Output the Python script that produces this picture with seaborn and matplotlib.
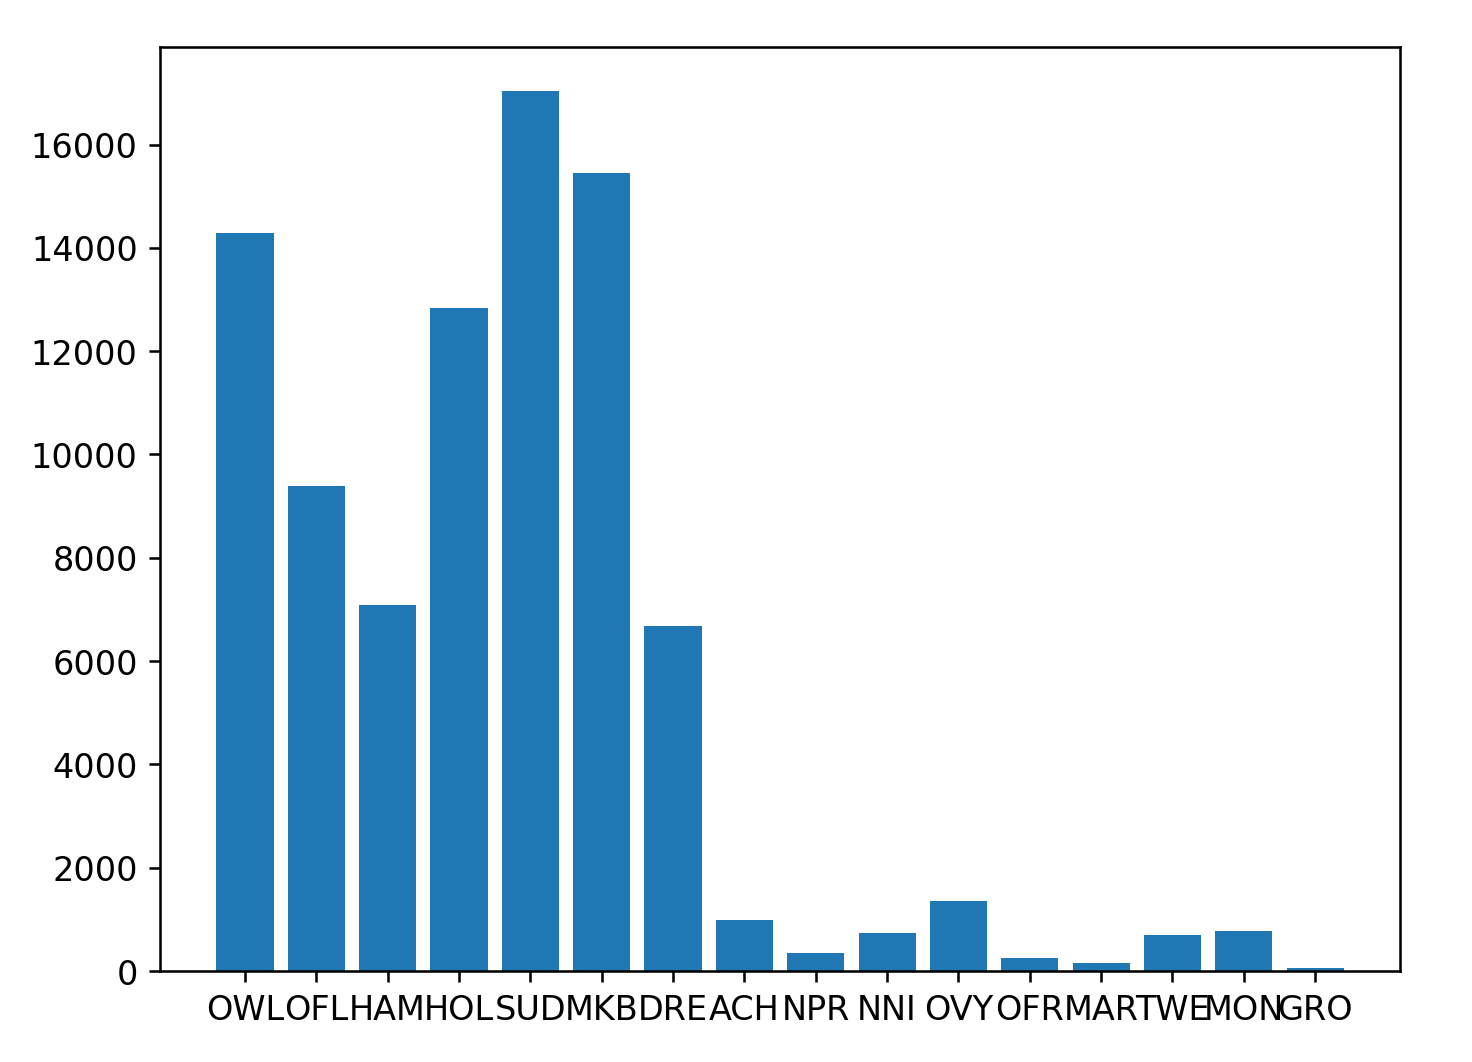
import matplotlib
matplotlib.use("Agg")
import matplotlib.pyplot as plt
import seaborn as sns
import pandas as pd

codes = ["OWL", "OFL", "HAM", "HOL", "SUD", "MKB", "DRE", "ACH",
         "NPR", "NNI", "OVY", "OFR", "MAR", "TWE", "MON", "GRO"]
counts = [14280, 9385, 7082, 12829, 17028, 15441, 6676, 987,
          348, 735, 1355, 252, 155, 697, 774, 58]

df = pd.DataFrame({"code": codes, "count": counts})

plt.rcParams["font.size"] = 10.5
fig, ax = plt.subplots(figsize=(6.4, 4.62), dpi=230)
fig.subplots_adjust(left=160/1471, right=1399/1471, top=1-48/1062, bottom=1-971/1062)

sns.barplot(data=df, x="code", y="count", color="#1f77b4", saturation=1,
            width=0.8, ax=ax)
ax.set_xlabel("")
ax.set_ylabel("")
ax.set_xlim(-1.19, 16.19)
ax.set_ylim(0, 17880)

fig.savefig("out.png", dpi=230)
